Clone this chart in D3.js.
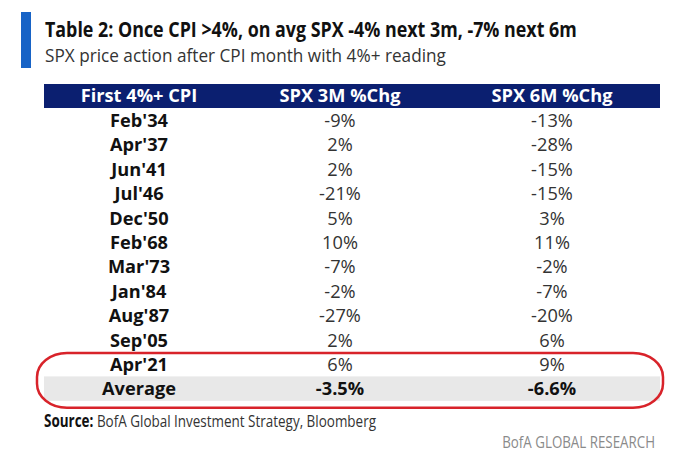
<!DOCTYPE html>
<html>
<head>
<meta charset="utf-8">
<script src="https://cdn.jsdelivr.net/npm/d3@7"></script>
<style>
  body { margin: 0; background: #fff; }
  svg { display: block; }
  text { font-family: "Open Sans", "Noto Sans", sans-serif; }
</style>
</head>
<body>
<div id="container"></div>
<script>
const width = 680;
const height = 458;

// ---- data ----
const title = "Table 2: Once CPI >4%, on avg SPX -4% next 3m, -7% next 6m";
const subtitle = "SPX price action after CPI month with 4%+ reading";
const headers = ["First 4%+ CPI", "SPX 3M %Chg", "SPX 6M %Chg"];
const months = ["Feb'34", "Apr'37", "Jun'41", "Jul'46", "Dec'50", "Feb'68",
  "Mar'73", "Jan'84", "Aug'87", "Sep'05", "Apr'21"];
const spx3m = [-9, 2, 2, -21, 5, 10, -7, -2, -27, 2, 6];
const spx6m = [-13, -28, -15, -15, 3, 11, -2, -7, -20, 6, 9];
const avgLabel = "Average";
const avg3m = -3.5;
const avg6m = -6.6;
const highlighted = ["Apr'21", "Average"];

const rows = months.map((m, i) => ({ label: m, v3: spx3m[i] + "%", v6: spx6m[i] + "%", avg: false }));
rows.push({ label: avgLabel, v3: avg3m.toFixed(1) + "%", v6: avg6m.toFixed(1) + "%", avg: true });

// ---- layout ----
const tableLeft = 44, tableRight = 660;
const headTop = 84, headBottom = 108;
const rowH = 24.4;

const y = d3.scaleBand()
  .domain(rows.map(d => d.label))
  .range([headBottom, headBottom + rowH * rows.length]);

const x = d3.scaleOrdinal()
  .domain(headers)
  .range([139, 340, 552]);

const svg = d3.select("#container").append("svg")
  .attr("width", width)
  .attr("height", height);

// squeeze text horizontally so it spans a target width
function fitWidth(t, target, px, py, anchor) {
  const w = t.node().getComputedTextLength();
  const k = target / w;
  t.attr("x", 0).attr("y", 0)
    .attr("text-anchor", anchor || "start")
    .attr("transform", `translate(${px},${py}) scale(${k},1)`);
  return k;
}

//---------------------------TITLE-----------------------------//
svg.append("rect")
  .attr("x", 21).attr("y", 12)
  .attr("width", 10).attr("height", 56)
  .attr("fill", "#1763c6");

fitWidth(svg.append("text")
  .attr("font-size", 21).attr("font-weight", 700).attr("fill", "#111")
  .text(title), 532, 45, 37);

fitWidth(svg.append("text")
  .attr("font-size", 19).attr("fill", "#333")
  .text(subtitle), 401, 45, 62);

//---------------------------HEADER----------------------------//
svg.append("rect")
  .attr("x", tableLeft).attr("y", headTop)
  .attr("width", tableRight - tableLeft).attr("height", headBottom - headTop)
  .attr("fill", "#0b1f70");

// condensation factor for the table font, taken from one header label
const probe = svg.append("text")
  .attr("font-size", 17.5).attr("font-weight", 700)
  .text(headers[2]);
const kTable = 121 / probe.node().getComputedTextLength();
probe.remove();

svg.selectAll(".head")
  .data(headers)
  .enter().append("text")
  .attr("class", "head")
  .attr("font-size", 17.5).attr("font-weight", 700).attr("fill", "#fff")
  .attr("text-anchor", "middle")
  .attr("transform", d => `translate(${x(d)},102) scale(${kTable},1)`)
  .text(d => d);

//----------------------------BODY-----------------------------//
svg.selectAll(".band")
  .data(rows.filter(d => d.avg))
  .enter().append("rect")
  .attr("class", "band")
  .attr("x", tableLeft).attr("y", d => y(d.label))
  .attr("width", tableRight - tableLeft).attr("height", y.bandwidth())
  .attr("fill", "#e8e8e8");

const row = svg.selectAll(".row")
  .data(rows)
  .enter().append("g")
  .attr("class", "row")
  .attr("transform", d => `translate(0,${y(d.label) + 19})`);

const cell = (key, col, bold) => row.append("text")
  .attr("font-size", 17.5)
  .attr("font-weight", d => bold(d) ? 700 : 400)
  .attr("fill", d => bold(d) ? "#111" : "#333")
  .attr("text-anchor", "middle")
  .attr("transform", `translate(${x(col)},0) scale(${kTable},1)`)
  .text(d => d[key]);

cell("label", headers[0], () => true);
cell("v3", headers[1], d => d.avg);
cell("v6", headers[2], d => d.avg);

// red highlight around the last two rows
const hTop = y(highlighted[0]), hBottom = y(highlighted[1]) + y.bandwidth();
svg.append("rect")
  .attr("x", 37).attr("y", hTop + 1)
  .attr("width", 663 - 37).attr("height", hBottom - hTop + 6)
  .attr("rx", 30).attr("ry", 24)
  .attr("fill", "none")
  .attr("stroke", "#d8232a")
  .attr("stroke-width", 2.5);

//---------------------------FOOTER----------------------------//
const src = svg.append("text")
  .attr("font-size", 17).attr("fill", "#333");
src.append("tspan").attr("font-weight", 700).attr("fill", "#111").text("Source:");
src.append("tspan").text(" BofA Global Investment Strategy, Bloomberg");
fitWidth(src, 332, 44, 427);

fitWidth(svg.append("text")
  .attr("font-size", 17).attr("fill", "#8a8a8a")
  .text("BofA GLOBAL RESEARCH"), 153, 655, 448, "end");
</script>
</body>
</html>
